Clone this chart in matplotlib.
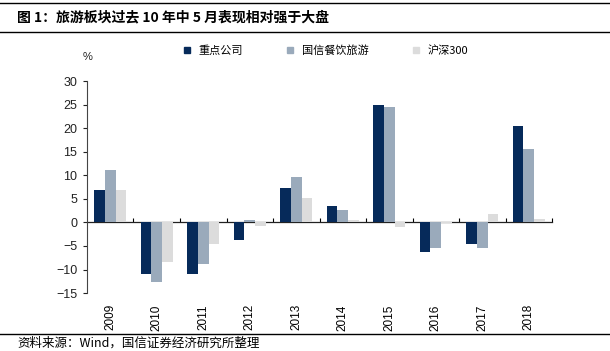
import numpy as np
import matplotlib
matplotlib.use('Agg')
import matplotlib.pyplot as plt
from matplotlib.lines import Line2D

plt.rcParams['font.family'] = ['Liberation Sans', 'Noto Sans CJK SC', 'DejaVu Sans']

years = ['2009', '2010', '2011', '2012', '2013', '2014', '2015', '2016', '2017', '2018']
key_companies = [6.8, -11.0, -10.9, -3.7, 7.3, 3.4, 24.9, -6.2, -4.5, 20.4]
catering_travel = [11.2, -12.6, -8.8, 0.6, 9.6, 2.7, 24.5, -5.5, -5.5, 15.5]
hs300 = [6.8, -8.5, -4.5, -0.8, 5.1, 0.5, -0.9, -0.1, 1.8, 0.7]
series_names = ['重点公司', '国信餐饮旅游', '沪深300']
colors = ['#062a5a', '#9aaabb', '#dcdcdc']

fig = plt.figure(figsize=(6.1, 3.51), dpi=100)
ax = fig.add_axes([0.1426, 0.165, 0.905 - 0.1426, 0.604])

x = np.arange(len(years))
w = 0.23
for i, (vals, c) in enumerate(zip([key_companies, catering_travel, hs300], colors)):
    ax.bar(x + (i - 1) * w, vals, w, color=c, zorder=2)

ax.set_xlim(-0.5, len(years) - 0.5)
ax.set_ylim(-15, 30)
ax.set_yticks(np.arange(-15, 31, 5))
ax.tick_params(axis='y', labelsize=9, length=3, width=0.8, pad=4, colors='#222222')
ax.spines['left'].set_color('#444444')
for s in ['top', 'right', 'bottom']:
    ax.spines[s].set_visible(False)

# category labels at bottom
ax.set_xticks(x)
ax.set_xticklabels(years, rotation=90, fontsize=8.5)
ax.tick_params(axis='x', length=0, pad=8)

# zero axis with boundary ticks
zero = ax.secondary_xaxis(15 / 45)
zero.spines['bottom'].set_color('#222222')
zero.spines['bottom'].set_linewidth(0.9)
zero.set_xticks(np.arange(0.5, len(years), 1.0))
zero.tick_params(axis='x', direction='in', length=3, width=0.8, labelbottom=False)

fig.text(0.143, 0.822, '%', fontsize=8, ha='center', va='bottom', color='#222222')

handles = [Line2D([], [], marker='s', linestyle='', color=c, markersize=4.5) for c in colors]
fig.legend(handles, series_names, loc='center', bbox_to_anchor=(0.528, 0.855), ncol=3,
           frameon=False, handletextpad=0.1, columnspacing=3.2,
           prop={'family': ['Noto Sans CJK SC', 'DejaVu Sans'], 'size': 8})

# title and source bars
fig.add_artist(Line2D([0.0, 1.0], [0.991, 0.991], color='black', lw=1.0))
fig.add_artist(Line2D([0.0, 1.0], [0.909, 0.909], color='black', lw=1.0))
fig.text(0.028, 0.95, '图 1：旅游板块过去 10 年中 5 月表现相对强于大盘', fontsize=10,
         fontweight='bold', va='center', family=['Noto Sans CJK SC', 'DejaVu Sans'])
fig.add_artist(Line2D([0.0, 1.0], [0.049, 0.049], color='black', lw=1.0))
fig.text(0.028, 0.022, '资料来源：Wind，国信证券经济研究所整理', fontsize=9,
         va='center', family=['Noto Sans CJK SC', 'DejaVu Sans'])

fig.savefig('out.png', dpi=100)
